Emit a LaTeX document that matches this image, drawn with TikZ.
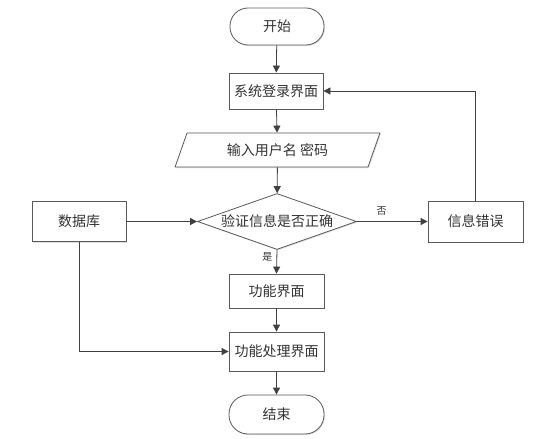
\documentclass[tikz,border=0pt]{standalone}
\usepackage{fontspec}
\setmainfont{Noto Sans CJK SC}
\usetikzlibrary{shapes.geometric,arrows.meta,shadows}
\definecolor{linec}{HTML}{404040}
\definecolor{boxc}{HTML}{5A5A5A}
\definecolor{txtc}{HTML}{333333}
\begin{document}
\begin{tikzpicture}[x=1pt,y=-1pt,
  base/.style={draw=boxc, line width=0.8pt, fill=white, text=txtc, font=\fontsize{14}{16}\selectfont, inner sep=0pt,
    drop shadow={shadow xshift=1pt, shadow yshift=-1pt, fill=black!20, opacity=0.6}},
  procbox/.style={base, rectangle, minimum width=94pt, minimum height=36pt},
  termbox/.style={base, rectangle, rounded corners=18pt, minimum width=94pt, minimum height=37pt},
  iobox/.style={base, trapezium, trapezium left angle=63, trapezium right angle=117, trapezium stretches=true, minimum width=205pt, minimum height=34pt},
  decbox/.style={base, diamond, aspect=2.84, minimum width=159pt, minimum height=56pt},
  conn/.style={draw=linec, line width=0.8pt, -{Triangle[length=7pt,width=7pt]}},
  lbl/.style={text=txtc, font=\fontsize{10}{12}\selectfont, inner sep=1pt}]
\useasboundingbox (0,0) rectangle (557,439);
\fill[white] (0,0) rectangle (557,439);
\node[termbox] (start) at (277,26.5) {开始};
\node[procbox] (login) at (276,91) {系统登录界面};
\node[iobox] (input) at (277.5,150) {输入用户名 密码};
\node[decbox] (check) at (277,221.5) {验证信息是否正确};
\node[procbox, minimum height=40pt] (db) at (79,221.5) {数据库};
\node[procbox, minimum height=41pt, minimum width=95pt] (err) at (475.5,221.5) {信息错误};
\node[procbox, minimum height=34pt, minimum width=95pt] (func) at (276.5,291) {功能界面};
\node[procbox, minimum height=39pt, minimum width=95pt] (proc) at (276.5,351.5) {功能处理界面};
\node[termbox, minimum width=95pt, minimum height=39pt, rounded corners=19pt] (end) at (276.5,414.5) {结束};
\draw[conn] (start) -- (login);
\draw[conn] (login) -- (input);
\draw[conn] (input) -- (check);
\draw[conn] (check.south) -- (func.north) node[lbl, pos=0.3, left=3pt] {是};
\draw[conn] (func) -- (proc);
\draw[conn] (proc) -- (end);
\draw[conn] (db.east) -- (check.west);
\draw[conn] (check.east) -- (err.west) node[lbl, pos=0.35, above=5pt] {否};
\draw[conn] (err.north) |- (login.east);
\draw[conn] (db.south) |- (proc.west);
\end{tikzpicture}
\end{document}
